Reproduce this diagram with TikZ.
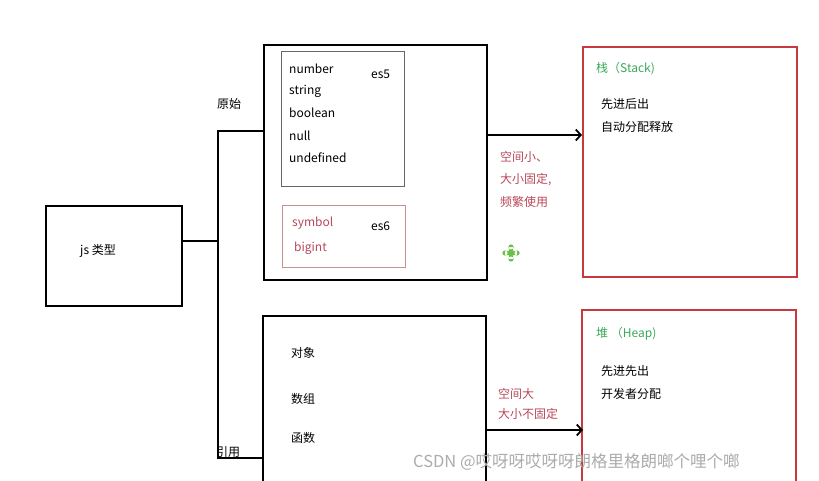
\documentclass[tikz,border=0pt]{standalone}
\usepackage{fontspec}
\setmainfont{Noto Sans CJK SC}
\usetikzlibrary{arrows.meta,calc}
\definecolor{dred}{HTML}{C8393F}
\definecolor{tred}{HTML}{B8485A}
\definecolor{pinkb}{HTML}{C89090}
\definecolor{tgreen}{HTML}{3AAA5A}
\definecolor{pgreen}{HTML}{6CC04A}
\begin{document}
\begin{tikzpicture}[x=1pt,y=-1pt,
  blk/.style={draw=black,line width=2pt},
  rbox/.style={draw=dred,line width=1.8pt},
  txt/.style={anchor=west,inner sep=0pt,font=\fontsize{12}{14}\selectfont},
  conn/.style={line width=2pt},
  arr/.style={line width=1.8pt,-{Straight Barb[length=5pt,width=11pt]}}]
\useasboundingbox (0,0) rectangle (819,481);
\fill[white] (0,0) rectangle (819,481);
% js box
\node[blk,minimum width=136pt,minimum height=100pt,anchor=north west] (js) at (45,205) {};
\node[txt] (jst) at (80,251) {js 类型};
% top box
\node[blk,minimum width=223pt,minimum height=235pt,anchor=north west] (top) at (263,44) {};
\node[draw=gray!80!black,line width=1pt,minimum width=123pt,minimum height=135pt,anchor=north west] (es5) at (281,51) {};
\node[draw=pinkb,line width=1pt,minimum width=123pt,minimum height=62pt,anchor=north west] (es6) at (282,205) {};
\node[txt] (t1) at (289,69) {number};
\node[txt] (t2) at (289,91) {string};
\node[txt] (t3) at (289,113) {boolean};
\node[txt] (t4) at (289,136) {null};
\node[txt] (t5) at (289,158) {undefined};
\node[txt] (e5) at (371,74) {es5};
\node[txt,text=tred] (s1) at (292,223) {symbol};
\node[txt,text=tred] (s2) at (294,248) {bigint};
\node[txt] (e6) at (371,226) {es6};
% bottom box
\path[blk] (263,481) -- (263,316) -- (486,316) -- (486,481);
\coordinate (botl) at (263,458);
\coordinate (botr) at (486,430);
\node[txt] (o1) at (291,353) {对象};
\node[txt] (o2) at (291,399) {数组};
\node[txt] (o3) at (291,438) {函数};
% stack / heap
\node[rbox,minimum width=214pt,minimum height=230pt,anchor=north west] (stack) at (582,46) {};
\path[rbox] (582,481) -- (582,310) -- (796,310) -- (796,481);
\coordinate (heapl) at (583,430);
\node[txt,text=tgreen] (st) at (596,69) {栈（Stack)};
\node[txt] (st1) at (601,104) {先进后出};
\node[txt] (st2) at (601,127) {自动分配释放};
\node[txt,text=tgreen] (hp) at (596,334) {堆 （Heap)};
\node[txt] (hp1) at (601,371) {先进先出};
\node[txt] (hp2) at (601,394) {开发者分配};
% labels
\node[txt] (ys) at (217,104) {原始};
\node[txt] (yy) at (216,452) {引用};
\node[txt,text=tred] (l1) at (500,157) {空间小、};
\node[txt,text=tred] (l2) at (500,180) {大小固定,};
\node[txt,text=tred] (l3) at (500,202) {频繁使用};
\node[txt,text=tred] (l4) at (498,394) {空间大};
\node[txt,text=tred] (l5) at (498,414) {大小不固定};
\node[inner sep=0pt,minimum size=16pt] (plus) at (511,253) {};
\fill[pgreen] (plus.center) circle (3pt);
\foreach \a in {0,90,180,270}
  \fill[pgreen,rotate around={\a:(plus.center)}] ($(plus.center)+(-2.2,0)$) rectangle ++(4.4,-6) ($(plus.center)+(0,-6)$) circle (2.6pt);
% connectors
\coordinate (jr) at (js.east |- 0,241);
\draw[conn] (jr) -- (218,241);
\draw[conn] (top.west |- 0,131) -| (218,458) -- (botl);
\draw[arr] (top.east |- 0,135) -- (stack.west |- 0,135);
\draw[arr] (botr) -- (heapl);
\node[txt,text=gray!65,font=\fontsize{16.5}{18}\selectfont] (wm) at (413,462) {CSDN @哎呀呀哎呀呀朗格里格朗啷个哩个啷};
\end{tikzpicture}
\end{document}
